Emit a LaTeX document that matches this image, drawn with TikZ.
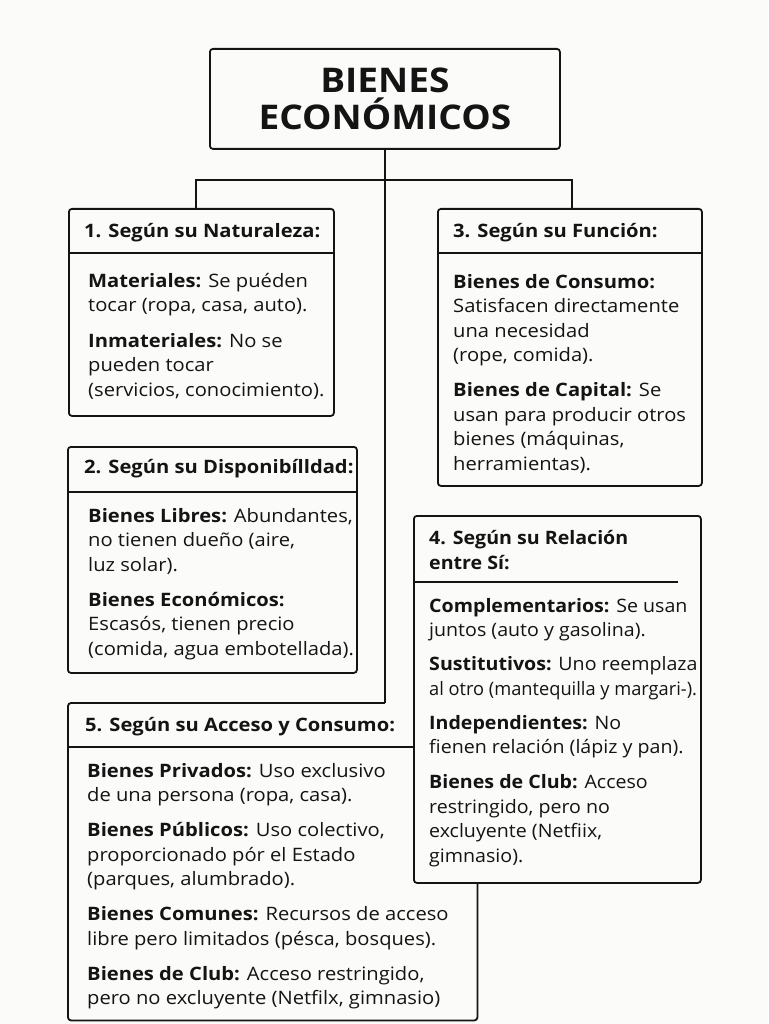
\documentclass[tikz,border=0pt]{standalone}
\usepackage{fontspec}
\setmainfont{Open Sans}[FakeStretch=1.09]
\newfontfamily\fourfont{Open Sans}[FakeStretch=1.06]
\definecolor{bgc}{RGB}{251,251,249}
\definecolor{ink}{RGB}{20,20,20}
\newcommand\bodyfs{\fontsize{18.5}{24.5}\selectfont}
\newcommand\hdrfs{\fontsize{18.5}{25}\selectfont\bfseries}
\newcommand\tstrut{\rule{0pt}{17pt}}
\begin{document}
\begin{tikzpicture}[x=1pt,y=-1pt,
  boxline/.style={draw=ink, line width=1.8pt, rounded corners=3pt},
  box/.style={boxline, fill=bgc, anchor=north west, inner sep=0pt},
  hdr/.style={anchor=north west, inner sep=0pt, align=left, text=ink, font=\hdrfs},
  body/.style={anchor=north west, inner sep=0pt, align=left, text=ink, font=\bodyfs},
  conn/.style={draw=ink, line width=1.8pt}]
\fill[bgc] (0,0) rectangle (768,1024);
\useasboundingbox (0,0) rectangle (768,1024);

% title
\node[box, minimum width=350, minimum height=100] (title) at (209,48) {};
\node[inner sep=0pt, align=center, text=ink, font=\fontsize{34}{37}\selectfont\bfseries] (ttext) at (title.center) {BIENES\\ECON\'OMICOS};

% box 1
\node[box, minimum width=265, minimum height=207] (b1) at (68,208) {};
\draw[conn] (68,253) -- (333,253);
\node[hdr] (h1) at (84,220) {\tstrut 1. Según su Naturaleza:};
\node[body] (t1) at (88,270) {\tstrut\textbf{Materiales:} Se puéden\\ tocar (ropa, casa, auto).\\[11pt] \textbf{Inmateriales:} No se\\ pueden tocar\\ (servicios, conocimiento).};

% box 3
\node[box, minimum width=264, minimum height=277] (b3) at (437,208) {};
\draw[conn] (437,253) -- (701,253);
\node[hdr] (h3) at (453,220) {\tstrut 3. Según su Función:};
\node[body] (t3) at (453,271) {\tstrut\textbf{Bienes de Consumo:}\\ Satisfacen directamente\\ una necesidad\\ (rope, comida).\\[10.5pt] \textbf{Bienes de Capital:} Se\\ usan para producir otros\\ bienes (máquinas,\\ herramientas).};

% box 2
\node[box, minimum width=289, minimum height=226] (b2) at (67,446) {};
\draw[conn] (67,492) -- (356,492);
\node[hdr] (h2) at (84,456) {\tstrut 2. Según su Disponibílldad:};
\node[body] (t2) at (88,505) {\tstrut\textbf{Bienes Libres:} Abundantes,\\ no tienen dueño (aire,\\ luz solar).\\[10.5pt] \textbf{Bienes Económicos:}\\ Escasós, tienen precio\\ (comida, agua embotellada).};

% box 5 (behind box 4)
\node[anchor=north west, inner sep=0pt, fill=bgc, minimum width=409, minimum height=317] (b5) at (68,703) {};
\draw[boxline] (title.south |- b5.north) -- (b5.north west) -- (b5.south west) -- (b5.south east) -- (b5.north east);
\draw[conn] (68,747) -- (477,747);
\node[hdr] (h5) at (85,714) {\tstrut 5. Según su Acceso y Consumo:};
\node[body] (t5) at (87,760) {\tstrut\textbf{Bienes Privados:} Uso exclusivo\\ de una persona (ropa, casa).\\[10.5pt] \textbf{Bienes Públicos:} Uso colectivo,\\ proporcionado pór el Estado\\ (parques, alumbrado).\\[10.5pt] \textbf{Bienes Comunes:} Recursos de acceso\\ libre pero limitados (pésca, bosques).\\[10.5pt] \textbf{Bienes de Club:} Acceso restringido,\\ pero no excluyente (Netfilx, gimnasio)};

% box 4
\node[box, minimum width=287, minimum height=367] (b4) at (413,515) {};
\draw[conn] (413,582) -- (678,582);
\node[hdr, font=\fourfont\hdrfs] (h4) at (429,527) {\tstrut 4. Según su Relación\\ entre Sí:};
\node[body, font=\fourfont\bodyfs] (t4) at (429,595) {\tstrut\textbf{Complementarios:} Se usan\\ juntos (auto y gasolina).\\[9.5pt] \textbf{Sustitutivos:} Uno reemplaza\\ \scalebox{0.93}[1]{al otro (mantequilla y margari-).}\\[9.5pt] \textbf{Independientes:} No\\ fienen relación (lápiz y pan).\\[10.5pt] \textbf{Bienes de Club:} Acceso\\ restringido, pero no\\ excluyente (Netfiix,\\ gimnasio).};

% connectors
\coordinate (jl) at (196,180);
\coordinate (jr) at (572,180);
\draw[conn] (title.south) -- (title.south |- b5.north);
\draw[conn] (jl |- b1.north) -- (jl) -- (jr) -- (jr |- b3.north);
\end{tikzpicture}
\end{document}
